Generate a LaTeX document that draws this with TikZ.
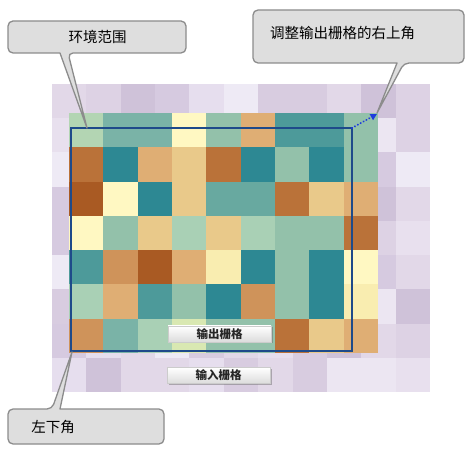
\documentclass[tikz,border=0pt]{standalone}
\usepackage{fontspec}
\newfontfamily\cjk{Noto Sans CJK SC}
\usetikzlibrary{arrows.meta,shadows}
% input (lavender) palette
\definecolor{L1}{HTML}{E2D8E8}
\definecolor{L2}{HTML}{DDD2E4}
\definecolor{L3}{HTML}{CFC2D9}
\definecolor{L4}{HTML}{D6CAE0}
\definecolor{L5}{HTML}{E6DEEE}
\definecolor{L6}{HTML}{EEEAF5}
\definecolor{L7}{HTML}{D8CCE0}
\definecolor{L8}{HTML}{E8E0EE}
\definecolor{L9}{HTML}{ECE6F2}
% output palette
\definecolor{G1}{HTML}{B3D5B3}
\definecolor{TG}{HTML}{7AB3A7}
\definecolor{YY}{HTML}{FFF8C2}
\definecolor{SG}{HTML}{93C1AA}
\definecolor{T1}{HTML}{DFAE74}
\definecolor{TL}{HTML}{4D9A9A}
\definecolor{BR}{HTML}{BA7239}
\definecolor{DT}{HTML}{2D8893}
\definecolor{LT}{HTML}{E9C98A}
\definecolor{DB}{HTML}{A95A23}
\definecolor{MT}{HTML}{68A9A0}
\definecolor{PG}{HTML}{A9D0B5}
\definecolor{TB}{HTML}{CF935A}
\definecolor{PY}{HTML}{F9EDB0}
\definecolor{YG}{HTML}{D9E8B2}
\definecolor{navy}{HTML}{1E4A8A}
\definecolor{arrblue}{HTML}{1E3CDC}
\definecolor{calloutfill}{HTML}{DEDEDE}
\definecolor{calloutline}{HTML}{8C8C8C}
\begin{document}
\begin{tikzpicture}[x=1pt,y=-1pt,
  callout/.style={fill=calloutfill,draw=calloutline,line width=1.3pt,line join=round},
  callouttext/.style={font=\cjk\fontsize{14.5}{16}\selectfont,text=black,inner sep=0pt},
  button/.style={top color=white,bottom color=black!14,draw=black!20,line width=0.4pt,
    minimum width=103pt,minimum height=16pt,inner sep=0pt,
    font=\cjk\bfseries\fontsize{11.5}{13}\selectfont,text=black!85,
    drop shadow={shadow xshift=1.5pt,shadow yshift=-1.5pt,opacity=0.45,fill=black!60}},
  outrect/.style={draw=navy,line width=2.2pt},
  dotarrow/.style={draw=arrblue,line width=2.1pt,dash pattern=on 0.1pt off 3.2pt,line cap=round,
    -{Triangle[length=6.5pt,width=6.5pt,fill=arrblue,line cap=butt]}}]
\useasboundingbox (0,0) rectangle (474,454);
\fill[white] (0,0) rectangle (474,454);
% input raster 11 x 9
\foreach \row [count=\j from 0] in {
  {L1,L2,L3,L4,L5,L6,L7,L7,L1,L3,L2},
  {L8,L5,L1,L7,L5,L6,L4,L1,L5,L9,L2},
  {L6,L5,L1,L7,L5,L6,L4,L1,L5,L4,L6},
  {L4,L5,L1,L7,L5,L6,L4,L1,L5,L3,L1},
  {L4,L5,L1,L7,L5,L6,L4,L1,L5,L2,L8},
  {L6,L5,L1,L7,L5,L6,L4,L1,L5,L4,L1},
  {L7,L5,L1,L7,L5,L6,L4,L1,L5,L9,L3},
  {L4,L5,L1,L6,L7,L1,L5,L7,L3,L1,L2},
  {L5,L3,L1,L1,L5,L7,L1,L7,L9,L9,L8}} {
  \foreach \c [count=\i from 0] in \row {
    \fill[\c] (52+\i*34.36,84+\j*34.22) rectangle ++(34.6,34.5);
  }
}
% output raster 9 x 7
\foreach \row [count=\j from 0] in {
  {G1,TG,TG,YY,SG,T1,TL,TL,SG},
  {BR,DT,T1,LT,BR,DT,SG,DT,SG},
  {DB,YY,DT,LT,MT,MT,BR,LT,T1},
  {YY,SG,LT,PG,LT,PG,SG,SG,BR},
  {TL,TB,DB,T1,PY,DT,SG,DT,YY},
  {PG,T1,TL,SG,DT,TB,SG,DT,PY},
  {TB,TG,PG,YG,SG,SG,BR,LT,T1}} {
  \foreach \c [count=\i from 0] in \row {
    \fill[\c] (69+\i*34.33,113+\j*34.29) rectangle ++(34.6,34.55);
  }
}
% output extent rectangle
\draw[outrect] (71,128) rectangle (352,351);
\coordinate (ur) at (352,128);
\coordinate (newur) at (377,114);
\draw[dotarrow] (ur) -- (newur);
% labels
\node[button] (outlbl) at (219.5,334) {输出栅格};
\node[button] (inlbl) at (218.5,375.5) {输入栅格};
% callouts
\draw[callout] (8,37) [rounded corners=5pt] -- (8,21) -- (186,21) -- (186,53) -- (68,53) [sharp corners] -- (87,128) -- (60,53) [rounded corners=5pt] -- (8,53) -- cycle;
\node[callouttext] (env) at (97.5,37) {环境范围};
\draw[callout] (253,36) [rounded corners=5pt] -- (253,10) -- (464,10) -- (464,63) -- (404,63) [sharp corners] -- (377,113) -- (397,63) [rounded corners=5pt] -- (253,63) -- cycle;
\node[callouttext] (adj) at (342.5,33) {调整输出栅格的右上角};
\draw[callout] (8,426) [rounded corners=5pt] -- (8,409) -- (52,409) [sharp corners] -- (72,352) -- (60,409) [rounded corners=5pt] -- (164,409) -- (164,444) -- (8,444) -- cycle;
\node[callouttext] (ll) at (53,427) {左下角};
\end{tikzpicture}
\end{document}
